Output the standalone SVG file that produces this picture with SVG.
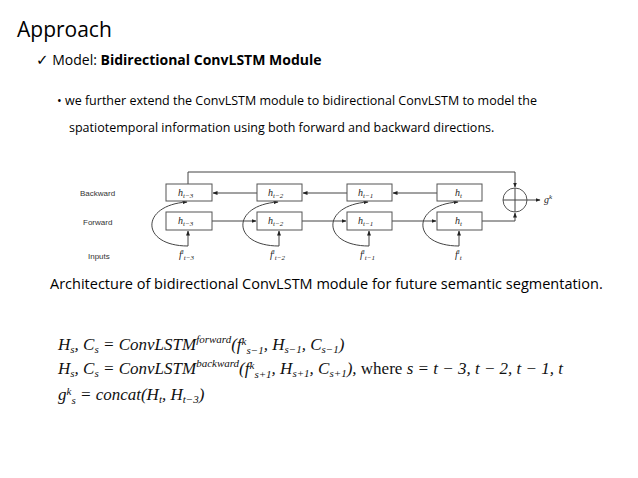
<svg xmlns="http://www.w3.org/2000/svg" width="638" height="478" viewBox="0 0 638 478">
<defs>
<marker id="ah" viewBox="0 0 10 10" refX="9" refY="5" markerWidth="5" markerHeight="5" orient="auto"><path d="M0,1 L10,5 L0,9 z" fill="#222"/></marker>
<style>
.s{font-family:"Open Sans","Liberation Sans",sans-serif;fill:#000}
.b{fill:#fff;stroke:#555;stroke-width:1}
.l{fill:none;stroke:#444;stroke-width:1}
.lab{font-family:"Liberation Sans",sans-serif;font-size:8px;fill:#333}
.m{font-family:"Liberation Serif",serif;font-style:italic;font-size:10px;fill:#222}
.e{font-family:"Liberation Serif",serif;font-style:italic;font-size:17px;fill:#111}
</style>
</defs>
<rect width="638" height="478" fill="#fff"/>
<text class="s" x="17" y="37" font-size="21">Approach</text>
<text class="s" x="36" y="65" font-size="14"><tspan font-family="DejaVu Sans" font-size="15">✓</tspan>  Model: <tspan font-weight="bold">Bidirectional ConvLSTM Module</tspan></text>
<text class="s" x="57" y="105" font-size="12.5">•  we further extend the ConvLSTM module to bidirectional ConvLSTM to model the</text>
<text class="s" x="69" y="132" font-size="12.5">spatiotemporal information using both forward and backward directions.</text>
<g id="labels">
<text class="lab" x="80" y="196">Backward</text>
<text class="lab" x="83" y="225">Forward</text>
<text class="lab" x="88" y="259">Inputs</text>
</g>
<g id="connectors">
<path class="l" d="M188,184 V172 H515 V187" marker-end="url(#ah)"/>
<path class="l" d="M482,221 H515 V213" marker-end="url(#ah)"/>
<path class="l" d="M527,200 H540" marker-end="url(#ah)"/>
<path class="l" d="M257,193 H213" marker-end="url(#ah)"/>
<path class="l" d="M347,193 H303" marker-end="url(#ah)"/>
<path class="l" d="M437,193 H393" marker-end="url(#ah)"/>
<path class="l" d="M212,221 H256" marker-end="url(#ah)"/>
<path class="l" d="M302,221 H346" marker-end="url(#ah)"/>
<path class="l" d="M392,221 H436" marker-end="url(#ah)"/>
<path class="l" d="M188,246 V231" marker-end="url(#ah)"/>
<path class="l" d="M188,246 C140,246 140,205 187,202" marker-end="url(#ah)"/>
<path class="l" d="M279,246 V231" marker-end="url(#ah)"/>
<path class="l" d="M279,246 C231,246 231,205 278,202" marker-end="url(#ah)"/>
<path class="l" d="M369,246 V231" marker-end="url(#ah)"/>
<path class="l" d="M369,246 C321,246 321,205 368,202" marker-end="url(#ah)"/>
<path class="l" d="M459,246 V231" marker-end="url(#ah)"/>
<path class="l" d="M459,246 C411,246 411,205 458,202" marker-end="url(#ah)"/>
</g>
<g id="bwd1"><rect class="b" x="166" y="184" width="46" height="17"/><text class="m" x="178" y="196">h<tspan font-size="7" dy="2">t−3</tspan></text></g>
<g id="bwd2"><rect class="b" x="257" y="184" width="45" height="17"/><text class="m" x="268" y="196">h<tspan font-size="7" dy="2">t−2</tspan></text></g>
<g id="bwd3"><rect class="b" x="347" y="184" width="45" height="17"/><text class="m" x="358" y="196">h<tspan font-size="7" dy="2">t−1</tspan></text></g>
<g id="bwd4"><rect class="b" x="437" y="184" width="45" height="17"/><text class="m" x="455" y="196">h<tspan font-size="7" dy="2">t</tspan></text></g>
<g id="fwd1"><rect class="b" x="166" y="212" width="46" height="18"/><text class="m" x="178" y="224">h<tspan font-size="7" dy="2">t−3</tspan></text></g>
<g id="fwd2"><rect class="b" x="257" y="212" width="45" height="18"/><text class="m" x="268" y="224">h<tspan font-size="7" dy="2">t−2</tspan></text></g>
<g id="fwd3"><rect class="b" x="347" y="212" width="45" height="18"/><text class="m" x="358" y="224">h<tspan font-size="7" dy="2">t−1</tspan></text></g>
<g id="fwd4"><rect class="b" x="437" y="212" width="45" height="18"/><text class="m" x="455" y="224">h<tspan font-size="7" dy="2">t</tspan></text></g>
<g id="sum"><circle cx="515" cy="200" r="12" fill="#fff" stroke="#555"/><path class="l" d="M503,200 H527 M515,188 V212"/></g>
<g id="gk"><text class="m" x="544" y="203">g<tspan font-size="7" dy="-4">k</tspan></text></g>
<g id="f1"><text class="m" x="179" y="258">f<tspan font-size="7" dy="-4">i</tspan><tspan font-size="7" dy="6">t−3</tspan></text></g>
<g id="f2"><text class="m" x="270" y="258">f<tspan font-size="7" dy="-4">i</tspan><tspan font-size="7" dy="6">t−2</tspan></text></g>
<g id="f3"><text class="m" x="360" y="258">f<tspan font-size="7" dy="-4">i</tspan><tspan font-size="7" dy="6">t−1</tspan></text></g>
<g id="f4"><text class="m" x="455" y="258">f<tspan font-size="7" dy="-4">i</tspan><tspan font-size="7" dy="6">t</tspan></text></g>
<text class="s" x="50" y="289" font-size="14.5">Architecture of bidirectional ConvLSTM module for future semantic segmentation.</text>
<text class="e" x="58" y="350">H<tspan font-size="11" dy="3">s</tspan><tspan dy="-3">, C</tspan><tspan font-size="11" dy="3">s</tspan><tspan dy="-3"> = ConvLSTM</tspan><tspan font-size="11" dy="-7">forward</tspan><tspan dy="7">(f</tspan><tspan font-size="11" dy="-5">k</tspan><tspan font-size="11" dy="9">s−1</tspan><tspan dy="-4">, H</tspan><tspan font-size="11" dy="3">s−1</tspan><tspan dy="-3">, C</tspan><tspan font-size="11" dy="3">s−1</tspan><tspan dy="-3">)</tspan></text>
<text class="e" x="58" y="374">H<tspan font-size="11" dy="3">s</tspan><tspan dy="-3">, C</tspan><tspan font-size="11" dy="3">s</tspan><tspan dy="-3"> = ConvLSTM</tspan><tspan font-size="11" dy="-7">backward</tspan><tspan dy="7">(f</tspan><tspan font-size="11" dy="-5">k</tspan><tspan font-size="11" dy="9">s+1</tspan><tspan dy="-4">, H</tspan><tspan font-size="11" dy="3">s+1</tspan><tspan dy="-3">, C</tspan><tspan font-size="11" dy="3">s+1</tspan><tspan dy="-3">),</tspan><tspan font-style="normal">    where </tspan>s = t − 3, t − 2, t − 1, t</text>
<text class="e" x="58" y="400">g<tspan font-size="11" dy="-5">k</tspan><tspan font-size="11" dy="9">s</tspan><tspan dy="-4"> = concat(H</tspan><tspan font-size="11" dy="3">t</tspan><tspan dy="-3">, H</tspan><tspan font-size="11" dy="3">t−3</tspan><tspan dy="-3">)</tspan></text>
</svg>
